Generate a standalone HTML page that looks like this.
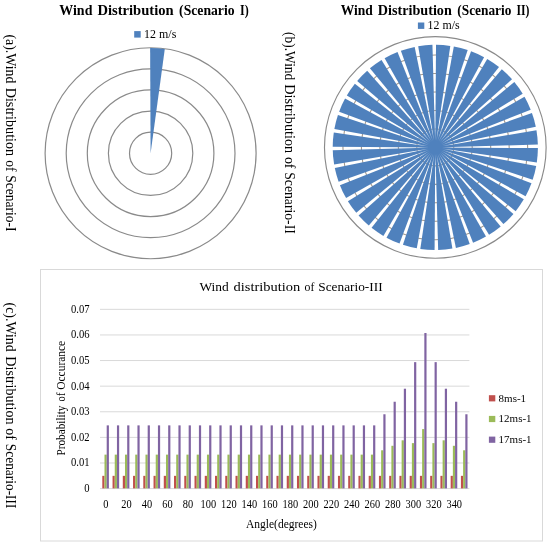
<!DOCTYPE html>
<html><head><meta charset="utf-8"><style>
html,body{margin:0;padding:0;background:#fff;}
svg{display:block;filter:blur(0.3px);}
text{font-family:"Liberation Serif",serif;}
</style></head><body>
<svg width="550" height="544" viewBox="0 0 550 544">
<defs><radialGradient id="cg"><stop offset="0.38" stop-color="#4F81BD"/><stop offset="0.6" stop-color="#4F81BD" stop-opacity="0.6"/><stop offset="1" stop-color="#4F81BD" stop-opacity="0"/></radialGradient></defs>
<rect width="550" height="544" fill="#fff"/>
<text x="59.30" y="15.4" font-size="14" font-weight="bold" textLength="33.10" lengthAdjust="spacingAndGlyphs">Wind</text>
<text x="97.50" y="15.4" font-size="14" font-weight="bold" textLength="76.10" lengthAdjust="spacingAndGlyphs">Distribution</text>
<text x="179.10" y="15.4" font-size="14" font-weight="bold" textLength="55.50" lengthAdjust="spacingAndGlyphs">(Scenario</text>
<text x="240.10" y="15.4" font-size="14" font-weight="bold" textLength="8.70" lengthAdjust="spacingAndGlyphs">I)</text>
<rect x="134.2" y="31.1" width="6.5" height="6.5" fill="#4F81BD"/>
<text x="144.1" y="37.6" font-size="11.8" fill="#000" textLength="32.2" lengthAdjust="spacingAndGlyphs" >12 m/s</text>
<circle cx="150.6" cy="153.25" r="21.10" fill="none" stroke="#8a8a8a" stroke-width="1.2"/>
<circle cx="150.6" cy="153.25" r="42.20" fill="none" stroke="#8a8a8a" stroke-width="1.2"/>
<circle cx="150.6" cy="153.25" r="63.30" fill="none" stroke="#8a8a8a" stroke-width="1.2"/>
<circle cx="150.6" cy="153.25" r="84.40" fill="none" stroke="#8a8a8a" stroke-width="1.2"/>
<circle cx="150.6" cy="153.25" r="105.50" fill="none" stroke="#8a8a8a" stroke-width="1.2"/>
<path d="M150.60,153.25L150.14,48.05A105.20,105.20 0 0 1 164.79,49.01Z" fill="#4F81BD"/>
<text x="34.50" y="0" font-size="14.2" textLength="48.89" lengthAdjust="spacingAndGlyphs" transform="translate(6.2,0) rotate(90)">(a).Wind</text>
<text x="87.70" y="0" font-size="14.2" textLength="68.51" lengthAdjust="spacingAndGlyphs" transform="translate(6.2,0) rotate(90)">Distribution</text>
<text x="160.20" y="0" font-size="14.2" textLength="11.39" lengthAdjust="spacingAndGlyphs" transform="translate(6.2,0) rotate(90)">of</text>
<text x="175.30" y="0" font-size="14.2" textLength="56.09" lengthAdjust="spacingAndGlyphs" transform="translate(6.2,0) rotate(90)">Scenario-I</text>
<text x="340.80" y="14.5" font-size="14" font-weight="bold" textLength="32.10" lengthAdjust="spacingAndGlyphs">Wind</text>
<text x="377.80" y="14.5" font-size="14" font-weight="bold" textLength="74.00" lengthAdjust="spacingAndGlyphs">Distribution</text>
<text x="457.30" y="14.5" font-size="14" font-weight="bold" textLength="54.10" lengthAdjust="spacingAndGlyphs">(Scenario</text>
<text x="516.50" y="14.5" font-size="14" font-weight="bold" textLength="13.00" lengthAdjust="spacingAndGlyphs">II)</text>
<rect x="417.9" y="22.5" width="6.4" height="6.4" fill="#4F81BD"/>
<text x="427.6" y="28.7" font-size="11.8" fill="#000" textLength="32.0" lengthAdjust="spacingAndGlyphs" >12 m/s</text>
<circle cx="435.3" cy="147.4" r="18.47" fill="none" stroke="#a39a90" stroke-width="1.1"/>
<circle cx="435.3" cy="147.4" r="36.94" fill="none" stroke="#a39a90" stroke-width="1.1"/>
<circle cx="435.3" cy="147.4" r="55.41" fill="none" stroke="#a39a90" stroke-width="1.1"/>
<circle cx="435.3" cy="147.4" r="73.88" fill="none" stroke="#a39a90" stroke-width="1.1"/>
<circle cx="435.3" cy="147.4" r="92.35" fill="none" stroke="#a39a90" stroke-width="1.1"/>
<circle cx="435.3" cy="147.4" r="110.82" fill="none" stroke="#8a8a8a" stroke-width="1.15"/>
<path d="M435.30,147.40L436.02,44.80A102.60,102.60 0 0 1 450.29,45.90Z" fill="#4F81BD"/>
<path d="M435.30,147.40L453.82,46.49A102.60,102.60 0 0 1 467.69,50.05Z" fill="#4F81BD"/>
<path d="M435.30,147.40L471.06,51.23A102.60,102.60 0 0 1 484.10,57.15Z" fill="#4F81BD"/>
<path d="M435.30,147.40L487.22,58.91A102.60,102.60 0 0 1 499.03,66.99Z" fill="#4F81BD"/>
<path d="M435.30,147.40L501.80,69.27A102.60,102.60 0 0 1 512.02,79.28Z" fill="#4F81BD"/>
<path d="M435.30,147.40L514.35,82.00A102.60,102.60 0 0 1 522.69,93.64Z" fill="#4F81BD"/>
<path d="M435.30,147.40L524.51,96.72A102.60,102.60 0 0 1 530.70,109.63Z" fill="#4F81BD"/>
<path d="M435.30,147.40L531.96,112.98A102.60,102.60 0 0 1 535.80,126.77Z" fill="#4F81BD"/>
<path d="M435.30,147.40L536.46,130.29A102.60,102.60 0 0 1 537.86,144.54Z" fill="#4F81BD"/>
<path d="M435.30,147.40L537.90,148.12A102.60,102.60 0 0 1 536.80,162.39Z" fill="#4F81BD"/>
<path d="M435.30,147.40L536.21,165.92A102.60,102.60 0 0 1 532.65,179.79Z" fill="#4F81BD"/>
<path d="M435.30,147.40L531.47,183.16A102.60,102.60 0 0 1 525.55,196.20Z" fill="#4F81BD"/>
<path d="M435.30,147.40L523.79,199.32A102.60,102.60 0 0 1 515.71,211.13Z" fill="#4F81BD"/>
<path d="M435.30,147.40L513.43,213.90A102.60,102.60 0 0 1 503.42,224.12Z" fill="#4F81BD"/>
<path d="M435.30,147.40L500.70,226.45A102.60,102.60 0 0 1 489.06,234.79Z" fill="#4F81BD"/>
<path d="M435.30,147.40L485.98,236.61A102.60,102.60 0 0 1 473.07,242.80Z" fill="#4F81BD"/>
<path d="M435.30,147.40L469.72,244.06A102.60,102.60 0 0 1 455.93,247.90Z" fill="#4F81BD"/>
<path d="M435.30,147.40L452.41,248.56A102.60,102.60 0 0 1 438.16,249.96Z" fill="#4F81BD"/>
<path d="M435.30,147.40L434.58,250.00A102.60,102.60 0 0 1 420.31,248.90Z" fill="#4F81BD"/>
<path d="M435.30,147.40L416.78,248.31A102.60,102.60 0 0 1 402.91,244.75Z" fill="#4F81BD"/>
<path d="M435.30,147.40L399.54,243.57A102.60,102.60 0 0 1 386.50,237.65Z" fill="#4F81BD"/>
<path d="M435.30,147.40L383.38,235.89A102.60,102.60 0 0 1 371.57,227.81Z" fill="#4F81BD"/>
<path d="M435.30,147.40L368.80,225.53A102.60,102.60 0 0 1 358.58,215.52Z" fill="#4F81BD"/>
<path d="M435.30,147.40L356.25,212.80A102.60,102.60 0 0 1 347.91,201.16Z" fill="#4F81BD"/>
<path d="M435.30,147.40L346.09,198.08A102.60,102.60 0 0 1 339.90,185.17Z" fill="#4F81BD"/>
<path d="M435.30,147.40L338.64,181.82A102.60,102.60 0 0 1 334.80,168.03Z" fill="#4F81BD"/>
<path d="M435.30,147.40L334.14,164.51A102.60,102.60 0 0 1 332.74,150.26Z" fill="#4F81BD"/>
<path d="M435.30,147.40L332.70,146.68A102.60,102.60 0 0 1 333.80,132.41Z" fill="#4F81BD"/>
<path d="M435.30,147.40L334.39,128.88A102.60,102.60 0 0 1 337.95,115.01Z" fill="#4F81BD"/>
<path d="M435.30,147.40L339.13,111.64A102.60,102.60 0 0 1 345.05,98.60Z" fill="#4F81BD"/>
<path d="M435.30,147.40L346.81,95.48A102.60,102.60 0 0 1 354.89,83.67Z" fill="#4F81BD"/>
<path d="M435.30,147.40L357.17,80.90A102.60,102.60 0 0 1 367.18,70.68Z" fill="#4F81BD"/>
<path d="M435.30,147.40L369.90,68.35A102.60,102.60 0 0 1 381.54,60.01Z" fill="#4F81BD"/>
<path d="M435.30,147.40L384.62,58.19A102.60,102.60 0 0 1 397.53,52.00Z" fill="#4F81BD"/>
<path d="M435.30,147.40L400.88,50.74A102.60,102.60 0 0 1 414.67,46.90Z" fill="#4F81BD"/>
<path d="M435.30,147.40L418.19,46.24A102.60,102.60 0 0 1 432.44,44.84Z" fill="#4F81BD"/>
<circle cx="435.3" cy="147.4" r="18" fill="url(#cg)"/>
<text x="32.00" y="0" font-size="14.2" textLength="48.30" lengthAdjust="spacingAndGlyphs" transform="translate(284.5,0) rotate(90)">(b).Wind</text>
<text x="84.30" y="0" font-size="14.2" textLength="68.91" lengthAdjust="spacingAndGlyphs" transform="translate(284.5,0) rotate(90)">Distribution</text>
<text x="156.90" y="0" font-size="14.2" textLength="11.59" lengthAdjust="spacingAndGlyphs" transform="translate(284.5,0) rotate(90)">of</text>
<text x="172.20" y="0" font-size="14.2" textLength="61.59" lengthAdjust="spacingAndGlyphs" transform="translate(284.5,0) rotate(90)">Scenario-II</text>
<rect x="40.5" y="269.5" width="502" height="271.5" fill="#fff" stroke="#D9D9D9" stroke-width="1"/>
<text x="199.40" y="291" font-size="12.5" textLength="29.30" lengthAdjust="spacingAndGlyphs">Wind</text>
<text x="233.60" y="291" font-size="12.5" textLength="66.60" lengthAdjust="spacingAndGlyphs">distribution</text>
<text x="304.60" y="291" font-size="12.5" textLength="9.79" lengthAdjust="spacingAndGlyphs">of</text>
<text x="318.30" y="291" font-size="12.5" textLength="64.29" lengthAdjust="spacingAndGlyphs">Scenario-III</text>
<line x1="100.0" y1="488.60" x2="469.4" y2="488.60" stroke="#D9D9D9" stroke-width="1"/>
<text x="89.6" y="491.80" font-size="11.5" fill="#000" text-anchor="end" textLength="5.3" lengthAdjust="spacingAndGlyphs" >0</text>
<line x1="100.0" y1="462.99" x2="469.4" y2="462.99" stroke="#D9D9D9" stroke-width="1"/>
<text x="89.6" y="466.23" font-size="11.5" fill="#000" text-anchor="end" textLength="18.6" lengthAdjust="spacingAndGlyphs" >0.01</text>
<line x1="100.0" y1="437.38" x2="469.4" y2="437.38" stroke="#D9D9D9" stroke-width="1"/>
<text x="89.6" y="440.66" font-size="11.5" fill="#000" text-anchor="end" textLength="18.6" lengthAdjust="spacingAndGlyphs" >0.02</text>
<line x1="100.0" y1="411.77" x2="469.4" y2="411.77" stroke="#D9D9D9" stroke-width="1"/>
<text x="89.6" y="415.09" font-size="11.5" fill="#000" text-anchor="end" textLength="18.6" lengthAdjust="spacingAndGlyphs" >0.03</text>
<line x1="100.0" y1="386.16" x2="469.4" y2="386.16" stroke="#D9D9D9" stroke-width="1"/>
<text x="89.6" y="389.52" font-size="11.5" fill="#000" text-anchor="end" textLength="18.6" lengthAdjust="spacingAndGlyphs" >0.04</text>
<line x1="100.0" y1="360.55" x2="469.4" y2="360.55" stroke="#D9D9D9" stroke-width="1"/>
<text x="89.6" y="363.95" font-size="11.5" fill="#000" text-anchor="end" textLength="18.6" lengthAdjust="spacingAndGlyphs" >0.05</text>
<line x1="100.0" y1="334.94" x2="469.4" y2="334.94" stroke="#D9D9D9" stroke-width="1"/>
<text x="89.6" y="338.38" font-size="11.5" fill="#000" text-anchor="end" textLength="18.6" lengthAdjust="spacingAndGlyphs" >0.06</text>
<line x1="100.0" y1="309.33" x2="469.4" y2="309.33" stroke="#D9D9D9" stroke-width="1"/>
<text x="89.6" y="312.81" font-size="11.5" fill="#000" text-anchor="end" textLength="18.6" lengthAdjust="spacingAndGlyphs" >0.07</text>
<rect x="102.30" y="475.84" width="2.2" height="12.56" fill="#C0504D"/>
<rect x="104.50" y="454.63" width="2.2" height="33.77" fill="#9BBB59"/>
<rect x="106.70" y="425.37" width="2.2" height="63.03" fill="#8064A2"/>
<rect x="112.55" y="475.84" width="2.2" height="12.56" fill="#C0504D"/>
<rect x="114.75" y="454.63" width="2.2" height="33.77" fill="#9BBB59"/>
<rect x="116.95" y="425.37" width="2.2" height="63.03" fill="#8064A2"/>
<rect x="122.79" y="475.84" width="2.2" height="12.56" fill="#C0504D"/>
<rect x="124.99" y="454.63" width="2.2" height="33.77" fill="#9BBB59"/>
<rect x="127.19" y="425.37" width="2.2" height="63.03" fill="#8064A2"/>
<rect x="133.04" y="475.84" width="2.2" height="12.56" fill="#C0504D"/>
<rect x="135.24" y="454.63" width="2.2" height="33.77" fill="#9BBB59"/>
<rect x="137.44" y="425.37" width="2.2" height="63.03" fill="#8064A2"/>
<rect x="143.28" y="475.84" width="2.2" height="12.56" fill="#C0504D"/>
<rect x="145.48" y="454.63" width="2.2" height="33.77" fill="#9BBB59"/>
<rect x="147.68" y="425.37" width="2.2" height="63.03" fill="#8064A2"/>
<rect x="153.53" y="475.84" width="2.2" height="12.56" fill="#C0504D"/>
<rect x="155.73" y="454.63" width="2.2" height="33.77" fill="#9BBB59"/>
<rect x="157.93" y="425.37" width="2.2" height="63.03" fill="#8064A2"/>
<rect x="163.78" y="475.84" width="2.2" height="12.56" fill="#C0504D"/>
<rect x="165.98" y="454.63" width="2.2" height="33.77" fill="#9BBB59"/>
<rect x="168.18" y="425.37" width="2.2" height="63.03" fill="#8064A2"/>
<rect x="174.02" y="475.84" width="2.2" height="12.56" fill="#C0504D"/>
<rect x="176.22" y="454.63" width="2.2" height="33.77" fill="#9BBB59"/>
<rect x="178.42" y="425.37" width="2.2" height="63.03" fill="#8064A2"/>
<rect x="184.27" y="475.84" width="2.2" height="12.56" fill="#C0504D"/>
<rect x="186.47" y="454.63" width="2.2" height="33.77" fill="#9BBB59"/>
<rect x="188.67" y="425.37" width="2.2" height="63.03" fill="#8064A2"/>
<rect x="194.51" y="475.84" width="2.2" height="12.56" fill="#C0504D"/>
<rect x="196.71" y="454.63" width="2.2" height="33.77" fill="#9BBB59"/>
<rect x="198.91" y="425.37" width="2.2" height="63.03" fill="#8064A2"/>
<rect x="204.76" y="475.84" width="2.2" height="12.56" fill="#C0504D"/>
<rect x="206.96" y="454.63" width="2.2" height="33.77" fill="#9BBB59"/>
<rect x="209.16" y="425.37" width="2.2" height="63.03" fill="#8064A2"/>
<rect x="215.01" y="475.84" width="2.2" height="12.56" fill="#C0504D"/>
<rect x="217.21" y="454.63" width="2.2" height="33.77" fill="#9BBB59"/>
<rect x="219.41" y="425.37" width="2.2" height="63.03" fill="#8064A2"/>
<rect x="225.25" y="475.84" width="2.2" height="12.56" fill="#C0504D"/>
<rect x="227.45" y="454.63" width="2.2" height="33.77" fill="#9BBB59"/>
<rect x="229.65" y="425.37" width="2.2" height="63.03" fill="#8064A2"/>
<rect x="235.50" y="475.84" width="2.2" height="12.56" fill="#C0504D"/>
<rect x="237.70" y="454.63" width="2.2" height="33.77" fill="#9BBB59"/>
<rect x="239.90" y="425.37" width="2.2" height="63.03" fill="#8064A2"/>
<rect x="245.74" y="475.84" width="2.2" height="12.56" fill="#C0504D"/>
<rect x="247.94" y="454.63" width="2.2" height="33.77" fill="#9BBB59"/>
<rect x="250.14" y="425.37" width="2.2" height="63.03" fill="#8064A2"/>
<rect x="255.99" y="475.84" width="2.2" height="12.56" fill="#C0504D"/>
<rect x="258.19" y="454.63" width="2.2" height="33.77" fill="#9BBB59"/>
<rect x="260.39" y="425.37" width="2.2" height="63.03" fill="#8064A2"/>
<rect x="266.24" y="475.84" width="2.2" height="12.56" fill="#C0504D"/>
<rect x="268.44" y="454.63" width="2.2" height="33.77" fill="#9BBB59"/>
<rect x="270.64" y="425.37" width="2.2" height="63.03" fill="#8064A2"/>
<rect x="276.48" y="475.84" width="2.2" height="12.56" fill="#C0504D"/>
<rect x="278.68" y="454.63" width="2.2" height="33.77" fill="#9BBB59"/>
<rect x="280.88" y="425.37" width="2.2" height="63.03" fill="#8064A2"/>
<rect x="286.73" y="475.84" width="2.2" height="12.56" fill="#C0504D"/>
<rect x="288.93" y="454.63" width="2.2" height="33.77" fill="#9BBB59"/>
<rect x="291.13" y="425.37" width="2.2" height="63.03" fill="#8064A2"/>
<rect x="296.97" y="475.84" width="2.2" height="12.56" fill="#C0504D"/>
<rect x="299.17" y="454.63" width="2.2" height="33.77" fill="#9BBB59"/>
<rect x="301.37" y="425.37" width="2.2" height="63.03" fill="#8064A2"/>
<rect x="307.22" y="475.84" width="2.2" height="12.56" fill="#C0504D"/>
<rect x="309.42" y="454.63" width="2.2" height="33.77" fill="#9BBB59"/>
<rect x="311.62" y="425.37" width="2.2" height="63.03" fill="#8064A2"/>
<rect x="317.47" y="475.84" width="2.2" height="12.56" fill="#C0504D"/>
<rect x="319.67" y="454.63" width="2.2" height="33.77" fill="#9BBB59"/>
<rect x="321.87" y="425.37" width="2.2" height="63.03" fill="#8064A2"/>
<rect x="327.71" y="475.84" width="2.2" height="12.56" fill="#C0504D"/>
<rect x="329.91" y="454.63" width="2.2" height="33.77" fill="#9BBB59"/>
<rect x="332.11" y="425.37" width="2.2" height="63.03" fill="#8064A2"/>
<rect x="337.96" y="475.84" width="2.2" height="12.56" fill="#C0504D"/>
<rect x="340.16" y="454.63" width="2.2" height="33.77" fill="#9BBB59"/>
<rect x="342.36" y="425.37" width="2.2" height="63.03" fill="#8064A2"/>
<rect x="348.20" y="475.84" width="2.2" height="12.56" fill="#C0504D"/>
<rect x="350.40" y="454.63" width="2.2" height="33.77" fill="#9BBB59"/>
<rect x="352.60" y="425.37" width="2.2" height="63.03" fill="#8064A2"/>
<rect x="358.45" y="475.84" width="2.2" height="12.56" fill="#C0504D"/>
<rect x="360.65" y="454.63" width="2.2" height="33.77" fill="#9BBB59"/>
<rect x="362.85" y="425.37" width="2.2" height="63.03" fill="#8064A2"/>
<rect x="368.70" y="475.84" width="2.2" height="12.56" fill="#C0504D"/>
<rect x="370.90" y="454.63" width="2.2" height="33.77" fill="#9BBB59"/>
<rect x="373.10" y="425.37" width="2.2" height="63.03" fill="#8064A2"/>
<rect x="378.94" y="475.84" width="2.2" height="12.56" fill="#C0504D"/>
<rect x="381.14" y="450.29" width="2.2" height="38.11" fill="#9BBB59"/>
<rect x="383.34" y="414.26" width="2.2" height="74.14" fill="#8064A2"/>
<rect x="389.19" y="475.84" width="2.2" height="12.56" fill="#C0504D"/>
<rect x="391.39" y="445.79" width="2.2" height="42.61" fill="#9BBB59"/>
<rect x="393.59" y="401.74" width="2.2" height="86.66" fill="#8064A2"/>
<rect x="399.43" y="475.84" width="2.2" height="12.56" fill="#C0504D"/>
<rect x="401.63" y="440.32" width="2.2" height="48.08" fill="#9BBB59"/>
<rect x="403.83" y="388.71" width="2.2" height="99.69" fill="#8064A2"/>
<rect x="409.68" y="475.84" width="2.2" height="12.56" fill="#C0504D"/>
<rect x="411.88" y="443.13" width="2.2" height="45.27" fill="#9BBB59"/>
<rect x="414.08" y="362.14" width="2.2" height="126.26" fill="#8064A2"/>
<rect x="419.93" y="475.84" width="2.2" height="12.56" fill="#C0504D"/>
<rect x="422.13" y="429.08" width="2.2" height="59.32" fill="#9BBB59"/>
<rect x="424.33" y="333.01" width="2.2" height="155.39" fill="#8064A2"/>
<rect x="430.17" y="475.84" width="2.2" height="12.56" fill="#C0504D"/>
<rect x="432.37" y="443.13" width="2.2" height="45.27" fill="#9BBB59"/>
<rect x="434.57" y="362.14" width="2.2" height="126.26" fill="#8064A2"/>
<rect x="440.42" y="475.84" width="2.2" height="12.56" fill="#C0504D"/>
<rect x="442.62" y="440.32" width="2.2" height="48.08" fill="#9BBB59"/>
<rect x="444.82" y="388.71" width="2.2" height="99.69" fill="#8064A2"/>
<rect x="450.66" y="475.84" width="2.2" height="12.56" fill="#C0504D"/>
<rect x="452.86" y="445.79" width="2.2" height="42.61" fill="#9BBB59"/>
<rect x="455.06" y="401.74" width="2.2" height="86.66" fill="#8064A2"/>
<rect x="460.91" y="475.84" width="2.2" height="12.56" fill="#C0504D"/>
<rect x="463.11" y="450.29" width="2.2" height="38.11" fill="#9BBB59"/>
<rect x="465.31" y="414.26" width="2.2" height="74.14" fill="#8064A2"/>
<text x="105.92" y="507.7" font-size="11.5" fill="#000" text-anchor="middle" textLength="5.17" lengthAdjust="spacingAndGlyphs" >0</text>
<text x="126.42" y="507.7" font-size="11.5" fill="#000" text-anchor="middle" textLength="10.35" lengthAdjust="spacingAndGlyphs" >20</text>
<text x="146.91" y="507.7" font-size="11.5" fill="#000" text-anchor="middle" textLength="10.35" lengthAdjust="spacingAndGlyphs" >40</text>
<text x="167.40" y="507.7" font-size="11.5" fill="#000" text-anchor="middle" textLength="10.35" lengthAdjust="spacingAndGlyphs" >60</text>
<text x="187.89" y="507.7" font-size="11.5" fill="#000" text-anchor="middle" textLength="10.35" lengthAdjust="spacingAndGlyphs" >80</text>
<text x="208.38" y="507.7" font-size="11.5" fill="#000" text-anchor="middle" textLength="15.53" lengthAdjust="spacingAndGlyphs" >100</text>
<text x="228.88" y="507.7" font-size="11.5" fill="#000" text-anchor="middle" textLength="15.53" lengthAdjust="spacingAndGlyphs" >120</text>
<text x="249.37" y="507.7" font-size="11.5" fill="#000" text-anchor="middle" textLength="15.53" lengthAdjust="spacingAndGlyphs" >140</text>
<text x="269.86" y="507.7" font-size="11.5" fill="#000" text-anchor="middle" textLength="15.53" lengthAdjust="spacingAndGlyphs" >160</text>
<text x="290.35" y="507.7" font-size="11.5" fill="#000" text-anchor="middle" textLength="15.53" lengthAdjust="spacingAndGlyphs" >180</text>
<text x="310.84" y="507.7" font-size="11.5" fill="#000" text-anchor="middle" textLength="15.53" lengthAdjust="spacingAndGlyphs" >200</text>
<text x="331.33" y="507.7" font-size="11.5" fill="#000" text-anchor="middle" textLength="15.53" lengthAdjust="spacingAndGlyphs" >220</text>
<text x="351.83" y="507.7" font-size="11.5" fill="#000" text-anchor="middle" textLength="15.53" lengthAdjust="spacingAndGlyphs" >240</text>
<text x="372.32" y="507.7" font-size="11.5" fill="#000" text-anchor="middle" textLength="15.53" lengthAdjust="spacingAndGlyphs" >260</text>
<text x="392.81" y="507.7" font-size="11.5" fill="#000" text-anchor="middle" textLength="15.53" lengthAdjust="spacingAndGlyphs" >280</text>
<text x="413.30" y="507.7" font-size="11.5" fill="#000" text-anchor="middle" textLength="15.53" lengthAdjust="spacingAndGlyphs" >300</text>
<text x="433.80" y="507.7" font-size="11.5" fill="#000" text-anchor="middle" textLength="15.53" lengthAdjust="spacingAndGlyphs" >320</text>
<text x="454.29" y="507.7" font-size="11.5" fill="#000" text-anchor="middle" textLength="15.53" lengthAdjust="spacingAndGlyphs" >340</text>
<text x="246.00" y="527.6" font-size="11.6" textLength="70.90" lengthAdjust="spacingAndGlyphs">Angle(degrees)</text>
<text x="-455.50" y="0" font-size="12.4" textLength="49.90" lengthAdjust="spacingAndGlyphs" transform="translate(65.3,0) rotate(-90)">Probability</text>
<text x="-401.40" y="0" font-size="12.4" textLength="8.79" lengthAdjust="spacingAndGlyphs" transform="translate(65.3,0) rotate(-90)">of</text>
<text x="-389.80" y="0" font-size="12.4" textLength="49.00" lengthAdjust="spacingAndGlyphs" transform="translate(65.3,0) rotate(-90)">Occurance</text>
<rect x="488.9" y="395.20" width="6.4" height="6.2" fill="#C0504D"/>
<text x="498.6" y="401.70" font-size="11.4" fill="#000" textLength="27.5" lengthAdjust="spacingAndGlyphs" >8ms-1</text>
<rect x="488.9" y="415.90" width="6.4" height="6.2" fill="#9BBB59"/>
<text x="498.6" y="422.40" font-size="11.4" fill="#000" textLength="33.0" lengthAdjust="spacingAndGlyphs" >12ms-1</text>
<rect x="488.9" y="436.60" width="6.4" height="6.2" fill="#8064A2"/>
<text x="498.6" y="443.10" font-size="11.4" fill="#000" textLength="33.0" lengthAdjust="spacingAndGlyphs" >17ms-1</text>
<text x="302.60" y="0" font-size="14.2" textLength="48.99" lengthAdjust="spacingAndGlyphs" transform="translate(6.2,0) rotate(90)">(c).Wind</text>
<text x="356.30" y="0" font-size="14.2" textLength="68.21" lengthAdjust="spacingAndGlyphs" transform="translate(6.2,0) rotate(90)">Distribution</text>
<text x="428.30" y="0" font-size="14.2" textLength="11.59" lengthAdjust="spacingAndGlyphs" transform="translate(6.2,0) rotate(90)">of</text>
<text x="443.80" y="0" font-size="14.2" textLength="64.69" lengthAdjust="spacingAndGlyphs" transform="translate(6.2,0) rotate(90)">Scenario-III</text>
</svg>
</body></html>
